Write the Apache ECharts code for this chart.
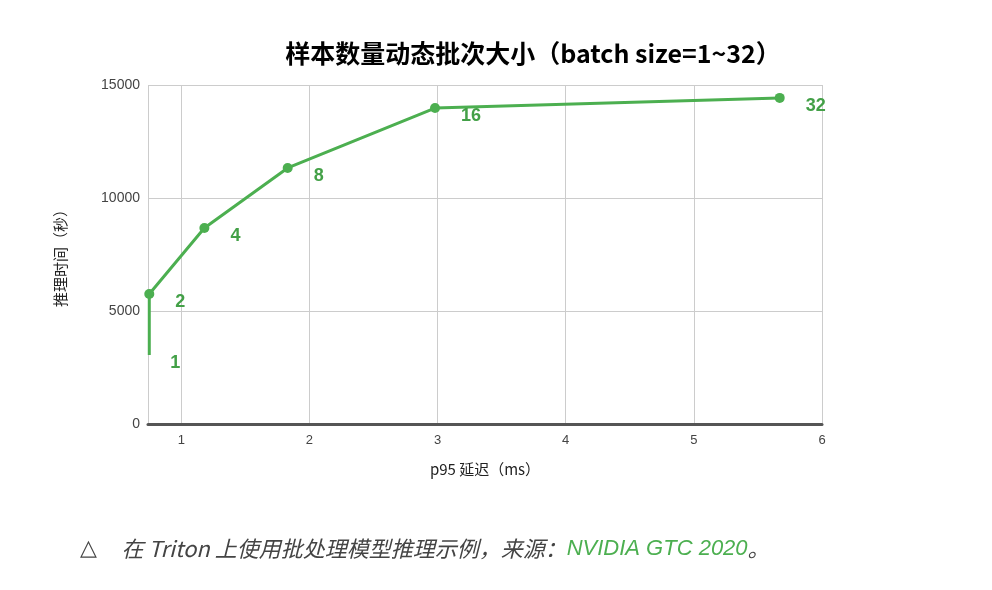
<!DOCTYPE html><html><head><meta charset="utf-8"><script src="https://cdn.jsdelivr.net/npm/echarts@6/dist/echarts.min.js"></script></head><body style="margin:0;background:#fff"><div id="c" style="width:992px;height:590px"></div><script>
const xs=[0.75,0.75,1.18,1.83,2.98,5.67];
const ys=[3050,5750,8670,11330,13980,14430];
const labels=['1','2','4','8','16','32'];
const xTicks=[1,2,3,4,5,6];
const yTicks=[0,5000,10000,15000];
const c=echarts.init(document.getElementById('c'));
c.setOption({
title:[{text:'样本数量动态批次大小（batch size=1~32）',left:528,top:36,textAlign:'center',textStyle:{fontSize:25,fontWeight:'bold',color:'#000',fontFamily:'Noto Sans CJK SC'}},
{text:'△    {i|在 Triton 上使用批处理模型推理示例，来源：}{l|NVIDIA GTC 2020}{i|。}',left:75,top:533,textStyle:{fontSize:22,fontWeight:'normal',color:'#444',rich:{i:{fontSize:22,fontStyle:'italic',fontWeight:'normal',color:'#444',fontFamily:'Noto Sans CJK SC'},l:{fontSize:22,fontStyle:'italic',fontWeight:'normal',color:'#4caf50',fontFamily:'Liberation Sans'}}}}],
grid:{left:148,right:170,top:85,bottom:166},
xAxis:{type:'value',min:0.74,max:6,name:'p95 延迟（ms）',nameLocation:'middle',nameGap:38,nameTextStyle:{fontSize:15,color:'#222',fontFamily:'Noto Sans CJK SC'},
axisLine:{lineStyle:{color:'#555',width:3}},axisTick:{show:false},
axisLabel:{customValues:xTicks,color:'#444',fontSize:13,margin:10},
splitLine:{show:true,lineStyle:{color:'#ccc'}}},
yAxis:{type:'value',min:0,max:15000,interval:5000,name:'推理时间（秒）',nameLocation:'middle',nameGap:80,nameTextStyle:{fontSize:15,color:'#222',fontFamily:'Noto Sans CJK SC'},
axisLine:{show:false},axisTick:{show:false},axisLabel:{color:'#444',fontSize:14,margin:8,formatter:v=>String(v)},splitLine:{lineStyle:{color:'#ccc'}}},
series:[{type:'line',data:xs.map((x,i)=>({value:[x,ys[i]],symbolSize:i==0?0:10,label:{show:true,formatter:labels[i]}})),
symbol:'circle',lineStyle:{color:'#4caf50',width:3},itemStyle:{color:'#4caf50'},
label:{position:'right',offset:[16,8],color:'#43a047',fontSize:18,fontWeight:'bold'}}]
});
</script></body></html>
